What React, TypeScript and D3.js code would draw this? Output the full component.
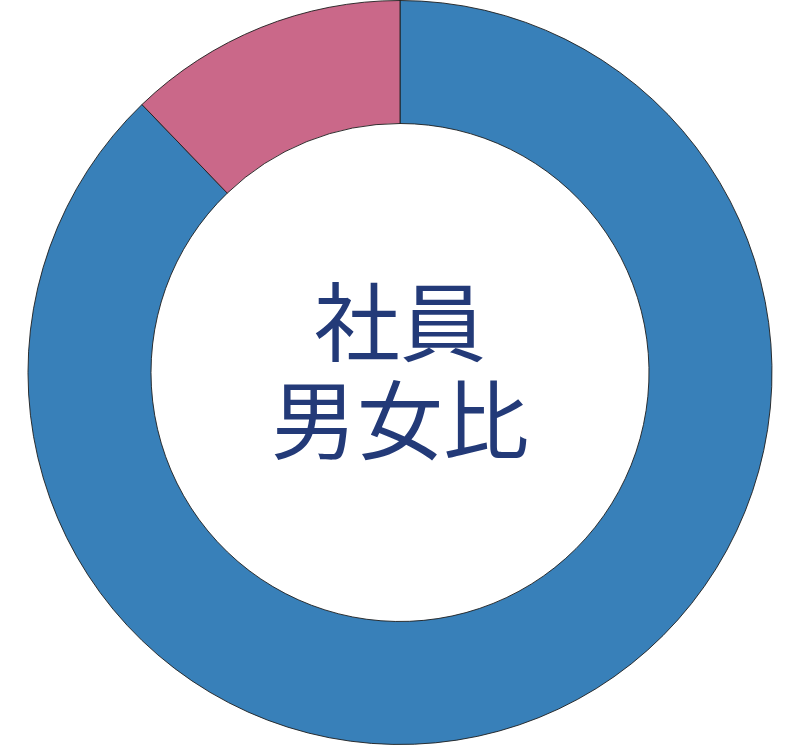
import React from 'react';
import * as d3 from 'd3';

// 社員男女比
const genders = ['男性', '女性'];
const ratios = [87.8, 12.2];
const colors = ['#3880B9', '#CA6889'];
const titleLines = ['社員', '男女比'];

const W = 800;
const H = 745;

const App: React.FC = () => {
  const cx = 400;
  const cy = 372.5;
  const outer = 372;
  const inner = 249;

  const data = genders.map((g, i) => ({ g, v: ratios[i], c: colors[i] }));
  const pie = d3.pie<{ g: string; v: number; c: string }>()
    .value(d => d.v)
    .sort(null);
  const arc = d3.arc<d3.PieArcDatum<{ g: string; v: number; c: string }>>()
    .innerRadius(inner)
    .outerRadius(outer);

  const arcs = pie(data);

  return (
    <svg
      width={W}
      height={H}
      style={{ position: 'absolute', left: 0, top: 0, display: 'block' }}
    >
      <rect width={W} height={H} fill="#fff" />
      <g transform={`translate(${cx},${cy})`}>
        {arcs.map(a => (
          <path key={a.data.g} d={arc(a) || ''} fill={a.data.c} stroke="#1e1e1e" strokeWidth={0.9} />
        ))}
        {titleLines.map((t, i) => (
          <text
            key={t}
            x={0}
            y={-55 + i * 98}
            textAnchor="middle"
            dominantBaseline="central"
            fill="#233A78"
            style={{ fontFamily: '"Noto Sans CJK JP", sans-serif', fontSize: 86, fontWeight: 400 }}
          >
            {t}
          </text>
        ))}
      </g>
    </svg>
  );
};

export default App;
